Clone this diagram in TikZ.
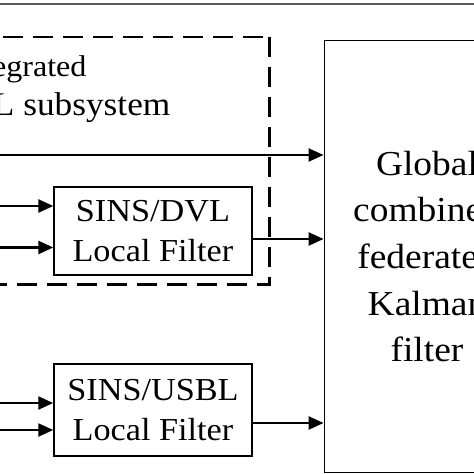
\documentclass[tikz,border=0pt]{standalone}
\usepackage{fontspec}
\setmainfont[FakeStretch=1.07]{Liberation Serif}
\usetikzlibrary{arrows.meta}
\begin{document}
\begin{tikzpicture}[x=1pt,y=-1pt,
  box/.style={draw,line width=1.5pt,align=center,inner sep=0pt},
  arr/.style={line width=2.4pt,-{Triangle[length=15pt,width=13pt]}},
  dashbox/.style={line width=2.4pt,dash pattern=on 20pt off 10pt}]
\useasboundingbox (0,0) rectangle (474,474);
\clip (0,0) rectangle (474,474);
\draw[black!65,line width=1.6pt] (-10,3.8) -- (490,3.8);
\draw[dashbox] (269.3,36.7) -- (269.3,284.3) -- (-20,284.3);
\draw[dashbox,dash phase=23.4pt] (269.3,36.7) -- (-20,36.7);
\node[anchor=base east,font=\fontsize{30}{38}\selectfont] (sublbl1) at (90,76.7) {Integrated};
\node[anchor=base east,font=\fontsize{33}{38}\selectfont] (sublbl2) at (174,115) {SINS/DVL subsystem};
\node[box,minimum width=197.7pt,minimum height=88pt,font=\fontsize{32}{40}\selectfont] (dvl) at (152.9,231) {SINS/DVL\\Local Filter};
\node[box,minimum width=198pt,minimum height=92pt,font=\fontsize{32}{40}\selectfont] (usbl) at (153,410) {SINS/USBL\\Local Filter};
\node[box,minimum width=205.4pt,minimum height=431.6pt,font=\fontsize{35}{46.7}\selectfont] (global) at (427,256.5) {Global\\combined\\federated\\Kalman\\filter};
\coordinate (src0) at (-20,155);
\draw[arr] (src0) -- (src0 -| global.west);
\foreach \y/\t [count=\i] in {206/dvl,247.5/dvl,403/usbl,430/usbl} {
  \coordinate (src\i) at (-20,\y);
  \draw[arr] (src\i) -- (src\i -| \t.west);
}
\draw[arr] (dvl.east |- 0,239) -- (global.west |- 0,239);
\draw[arr] (usbl.east |- 0,423) -- (global.west |- 0,423);
\end{tikzpicture}
\end{document}
